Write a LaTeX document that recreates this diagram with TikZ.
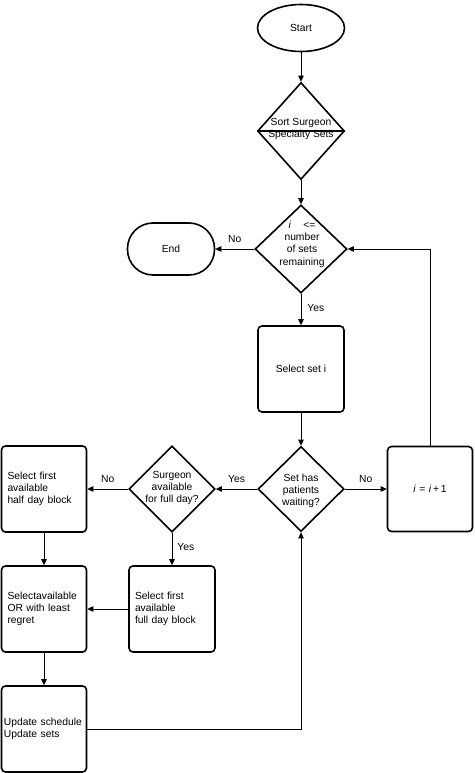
\documentclass[tikz,border=0pt]{standalone}
\usepackage{fontspec}
\setmainfont{Liberation Sans}
\usetikzlibrary{shapes.geometric,arrows.meta}
\begin{document}
\begin{tikzpicture}[x=1pt,y=-1pt,
  font=\fontsize{10.3}{12.3}\selectfont,
  shp/.style={draw=black,line width=1.6pt,inner sep=0pt},
  dia/.style={shp,diamond,aspect=1},
  boxl/.style={shp,rectangle,rounded corners=4pt,minimum width=85pt,minimum height=86pt,text width=73pt,inner xsep=6pt,align=left},
  boxc/.style={shp,rectangle,rounded corners=4pt,minimum width=86pt,minimum height=86pt,align=center},
  conn/.style={draw=black,line width=0.9pt,-{Triangle[length=6pt,width=5.5pt]}},
  plain/.style={draw=black,line width=0.9pt},
  lbl/.style={inner sep=0pt}]
\useasboundingbox (0,0) rectangle (474,773);
% shapes
\node[shp,ellipse,minimum width=87pt,minimum height=47pt] (start) at (301,28) {Start};
\node[dia,minimum width=87pt,minimum height=97pt] (sort) at (301,131) {};
\node[lbl,anchor=base] (sorta) at (301,125) {Sort Surgeon};
\node[lbl,anchor=base] (sortb) at (301,138) {Specialty Sets};
\draw[line width=1.3pt] (sort.west) -- (sort.east);
\node[dia,minimum width=92pt,minimum height=88pt] (cond) at (301,249) {};
\node[lbl,align=center] (condt) at (302,244) {\textit{i}\hspace{1.2em}<=\\number\\of sets\\remaining};
\node[shp,rectangle,rounded corners=25.5pt,minimum width=87pt,minimum height=52pt] (end) at (171,249) {End};
\node[boxc] (sel) at (301,369) {Select set i};
\node[dia,minimum width=86pt,minimum height=85pt] (wait) at (301,489) {};
\node[lbl,align=center] (waitt) at (301,491) {Set has\\patients\\waiting?};
\node[boxc,minimum width=85pt,minimum height=85pt] (inc) at (430,489) {\textit{i}\,\,=\,\,\textit{i}\,+\,1};
\node[dia,minimum width=86pt,minimum height=86pt] (surg) at (172,489) {};
\node[lbl,align=center] (surgt) at (172,488) {Surgeon\\available\\for full day?};
\node[boxl] (half) at (44,489) {Select first\\available\\half day block};
\node[boxl,text width=74pt,inner xsep=6pt,minimum width=86pt] (full) at (172,609) {Select first\\available\\full day block};
\node[boxl] (least) at (44,609) {Selectavailable\\OR with least\\regret};
\node[boxl,text width=80pt,inner xsep=2.5pt] (upd) at (44,729) {Update schedule\\Update sets};
% connectors
\draw[conn] (start) -- (sort);
\draw[conn] (sort) -- (cond);
\draw[conn] (cond) -- node[lbl,above=6pt] {No} (end);
\draw[conn] (cond) -- node[lbl,right=6pt,pos=0.45] {Yes} (sel);
\draw[conn] (sel) -- (wait);
\draw[conn] (wait) -- node[lbl,above=6pt] {No} (inc);
\draw[conn] (wait) -- node[lbl,above=6pt] {Yes} (surg);
\draw[conn] (surg) -- node[lbl,above=6pt] {No} (half);
\draw[conn] (surg) -- node[lbl,right=5pt,pos=0.45] {Yes} (full);
\draw[conn] (half) -- (least);
\draw[conn] (full) -- (least);
\draw[conn] (least) -- (upd);
\coordinate (c1) at (430,249);
\draw[conn] (inc.north) -- (c1) -- (cond.east);
\coordinate (c2) at (301,729);
\draw[conn] (upd.east) -- (c2) -- (wait.south);
\end{tikzpicture}
\end{document}
